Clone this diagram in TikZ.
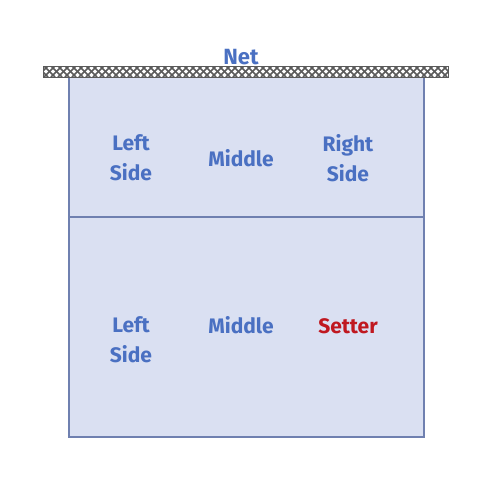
\documentclass[tikz,border=0pt]{standalone}
\usepackage{fontspec}
\setmainfont{Fira Sans}
\begin{document}
\begin{tikzpicture}[x=1pt,y=-1pt,
  court/.style={draw=courtedge,fill=courtfill,line width=1.2pt},
  lbl/.style={text=lblblue,font=\fontsize{21}{30}\selectfont\bfseries,align=center,inner sep=0pt},
  redlbl/.style={lbl,text=setred}]
\definecolor{courtfill}{HTML}{DAE0F2}
\definecolor{courtedge}{HTML}{6F80B0}
\definecolor{lblblue}{HTML}{4A70C2}
\definecolor{setred}{HTML}{C01820}
\definecolor{netgray}{HTML}{5A5A5A}
\useasboundingbox (0,0) rectangle (500,480);
\fill[white] (0,0) rectangle (500,480);
% court
\draw[court] (69,75) rectangle (424,437);
\draw[courtedge,line width=1.2pt] (69,217) -- (424,217);
% net
\fill[white] (43,66) rectangle (448,77);
\begin{scope}
\clip (43,66) rectangle (448,77);
\foreach \i in {30,37,...,460} {
  \draw[netgray,line width=1.6pt] (\i,66) -- ++(11,11);
  \draw[netgray,line width=1.6pt] (\i,77) -- ++(11,-11);
}
\end{scope}
\draw[netgray,line width=1pt] (43,66) rectangle (448,77);
\node[lbl,anchor=base,font=\fontsize{22}{30}\selectfont\bfseries] (net) at (241,64) {Net};
% labels
\node[lbl] (ltop) at (131,158) {Left\\Side};
\node[lbl] (mtop) at (241,158) {Middle};
\node[lbl] (rtop) at (348,158) {Right\\Side};
\node[lbl] (lbot) at (131,340) {Left\\Side};
\node[lbl] (mbot) at (241,325) {Middle};
\node[redlbl] (set) at (348,326) {Setter};
\end{tikzpicture}
\end{document}
